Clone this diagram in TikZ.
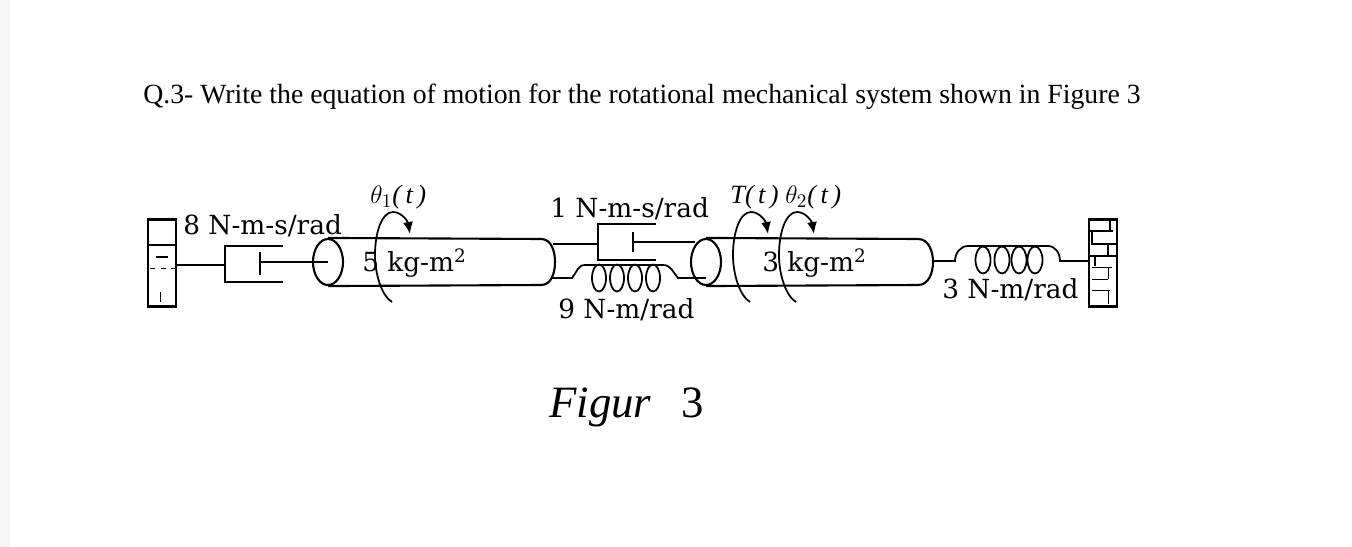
\documentclass[tikz,border=0pt]{standalone}
\usepackage{fontspec}
\setmainfont{Liberation Serif}
\newfontfamily\labelfont{DejaVu Serif}
\usetikzlibrary{shapes.geometric, arrows.meta}

\begin{document}
\begin{tikzpicture}[x=0.02cm,y=-0.02cm]

\tikzset{wall/.style = {draw, line width=1.3pt, minimum width=0.56cm, minimum height=1.74cm, inner sep=0pt}}
\tikzset{disk/.style = {shape=ellipse, draw, line width=1.2pt, minimum width=0.6cm, minimum height=0.92cm, inner sep=0pt}}
\tikzset{coil/.style = {shape=ellipse, draw, line width=1pt, minimum width=0.28cm, minimum height=0.54cm, inner sep=0pt}}
\tikzset{label/.style = {anchor=base west, inner sep=0pt, font=\fontsize{15}{17}\selectfont\labelfont}}
\tikzset{torque/.style = {anchor=base west, inner sep=0pt, font=\fontsize{15}{17}\selectfont\itshape}}
\tikzset{rod/.style = {line width=1pt}}
\tikzset{turn/.style = {line width=1pt, -{Latex[length=0.24cm,width=0.2cm]}}}

\fill[white] (0,0) rectangle (1352,547);
\fill[black!4] (0,0) rectangle (10,547);
\useasboundingbox (0,0) rectangle (1352,547);

%walls
\node[wall] (wallL) at (162,263) {};
\node[wall] (wallR) at (1103,263) {};
\draw[rod] (148,245) -- (176,245);
\draw[rod] (156,257) -- (168,257);
\draw[dashed, line width=0.4pt] (150,268) -- (176,268);
\draw[line width=0.5pt] (160,292) -- (160,302);
\draw[rod] (1089,231) -- (1113,231) (1110,219) -- (1110,231);
\draw[rod] (1092,231) -- (1092,244) -- (1118,244) (1108,244) -- (1108,256);
\draw[rod] (1089,256) -- (1118,256) (1095,256) -- (1095,266);
\draw[line width=0.5pt] (1092,267) -- (1112,267) (1108,267) -- (1108,279) (1092,279) -- (1108,279);
\draw[line width=0.5pt] (1092,290) -- (1110,290) (1108,290) -- (1108,304);

%disks
\node[disk] (disk1) at (328,262) {};
\node[disk] (disk2) at (706,262) {};
%cylinders
\draw[line width=1.2pt] (disk1.north) -- (541,239) to[out=0,in=90] (555,262) to[out=-90,in=0] (541,285) -- (disk1.south);
\draw[line width=1.2pt] (disk2.north) -- (918,239) to[out=0,in=90] (933,262) to[out=-90,in=0] (918,285) -- (disk2.south);

%damper left
\coordinate (back1) at (225,265);
\coordinate (piston1) at (260,262);
\draw[rod] (wallL.east |- back1) -- (back1);
\draw[line width=1.2pt] (283,246) -- (225,246) -- (225,282) -- (283,282);
\draw[rod] (260,252) -- (260,275);
\draw[rod] (piston1) -- (disk1.center);

%damper middle
\coordinate (back2) at (598,244);
\coordinate (piston2) at (633,242);
\draw[rod] (553,244) -- (back2);
\draw[line width=1.2pt] (656,224) -- (598,224) -- (598,260) -- (656,260);
\draw[line width=1.2pt] (633,232) -- (633,252);
\draw[rod] (piston2) -- (piston2 -| disk2.north west);

%spring middle
\foreach \x/\n in {599/a,617/b,635/c,653/d}
  \node[coil] (coil\n) at (\x,278) {};
\draw[rod] (552,278) -- (572,278) to[out=50,in=180] (585,265) -- (663,265) to[out=0,in=130] (678,278) -- (disk2.center |- 0,278);

%spring right
\foreach \x/\n in {983/e,1002/f,1019/g,1035/h}
  \node[coil, minimum width=0.3cm] (coil\n) at (\x,260) {};
\draw[rod] (933,261) -- (955,261) to[out=90,in=180] (968,246) -- (1048,246) to[out=0,in=90] (1060,261) -- (wallR.west |- 0,261);

%turning arrows
\foreach \s in {0,358,404}
  \draw[turn, xshift=\s*0.02cm] (392,302) .. controls (382,296) and (375,275) .. (375,255) .. controls (375,232) and (382,212) .. (393,212) .. controls (402,212) and (408,222) .. (410,234);

%labels
\node[anchor=base west, inner sep=0pt, font=\fontsize{15.8}{18}\selectfont] (question) at (143,104) {Q.3- Write the equation of motion for the rotational mechanical system shown in Figure 3};
\node[label] (c1) at (183,235) {8 N-m-s/rad};
\node[label] (j1a) at (362,272) {5};
\node[label] (j1b) at (387,272) {kg-m\textsuperscript{2}};
\node[label] (c2) at (550,217) {1 N-m-s/rad};
\node[label] (k1) at (558,318) {9 N-m/rad};
\node[label] (j2a) at (762,272) {3};
\node[label] (j2b) at (787,272) {kg-m\textsuperscript{2}};
\node[label] (k2) at (942,298) {3 N-m/rad};
\node[torque] (th1) at (370,204) {$\theta_1$(\,t\,)};
\node[torque] (tt) at (730,204) {T(\,t\,)};
\node[torque] (th2) at (785,204) {$\theta_2$(\,t\,)};
\node[anchor=base west, inner sep=0pt, font=\fontsize{25.5}{28}\selectfont] (fig) at (549,417) {\textit{Figur}\hspace{0.6cm}3};

\end{tikzpicture}
\end{document}
